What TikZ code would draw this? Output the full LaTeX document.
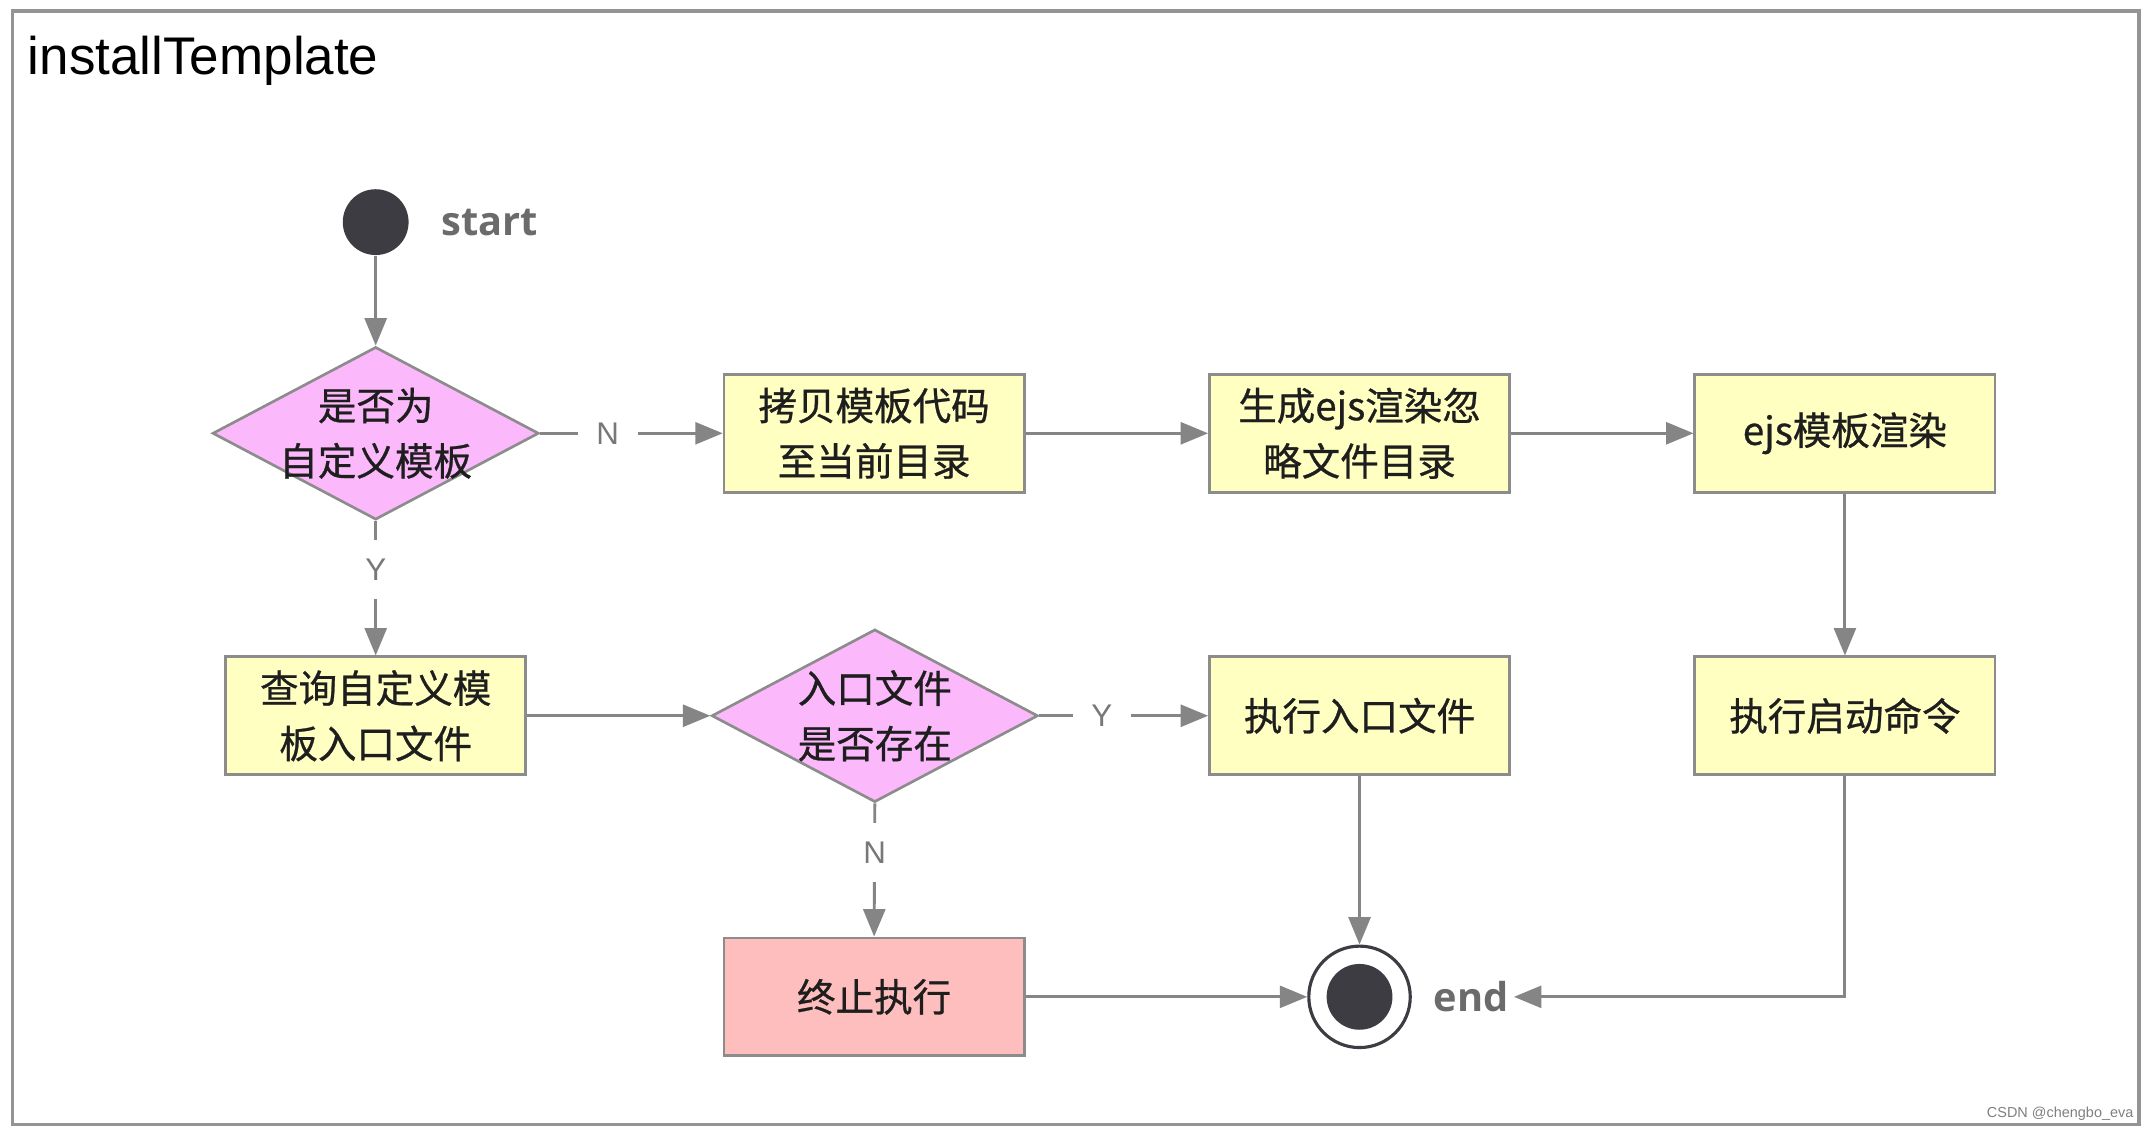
\documentclass[tikz,border=0pt]{standalone}
\usepackage{fontspec}
\setmainfont{Liberation Sans}
\newfontfamily\cjk[FakeBold=0.7]{Noto Sans CJK SC}
\newfontfamily\lblfont{Open Sans}
\usetikzlibrary{shapes.geometric,arrows.meta}
\definecolor{linegray}{HTML}{858585}
\definecolor{boxborder}{HTML}{8C8C8C}
\definecolor{boxfill}{HTML}{FFFFC2}
\definecolor{diafill}{HTML}{FBB9FB}
\definecolor{stopfill}{HTML}{FFBEBE}
\definecolor{dotfill}{HTML}{3C3C42}
\definecolor{txt}{HTML}{1E1E1E}
\tikzset{
  stepbox/.style={rectangle, draw=boxborder, line width=1.1pt, fill=boxfill,
    minimum width=4.38cm, minimum height=1.72cm, inner sep=0pt, align=center,
    font=\cjk\fontsize{16}{23}\selectfont, text=txt},
  stopbox/.style={stepbox, fill=stopfill},
  dia/.style={diamond, draw=boxborder, line width=1.1pt, fill=diafill,
    minimum width=4.76cm, minimum height=2.52cm, inner sep=0pt},
  diatext/.style={align=center, font=\cjk\fontsize{16}{23}\selectfont, text=txt, inner sep=0pt},
  arr/.style={draw=linegray, line width=1.2pt, -{Triangle[length=0.4cm,width=0.32cm]}},
  lbl/.style={fill=white, inner sep=0.27cm, font=\fontsize{13}{15}\selectfont, text=linegray!90!black},
  termlbl/.style={font=\lblfont\bfseries\fontsize{16.5}{20}\selectfont, text=black!58, inner sep=2pt},
}
\begin{document}
\begin{tikzpicture}[x=0.02cm,y=-0.02cm]
\useasboundingbox (0,0) rectangle (1568,827);
\fill[white] (0,0) rectangle (1568,827);
\node[draw=black!42, line width=1.4pt, minimum width=31.02cm, minimum height=16.24cm, inner sep=0pt] (frame) at (784.5,414) {};
\node[anchor=west, font=\fontsize{22}{24}\selectfont, text=black, inner sep=0pt] (title) at (20,44) {installTemplate};

\node[circle, fill=dotfill, minimum size=0.96cm, inner sep=0pt] (start) at (274,162) {};
\node[termlbl] (startlbl) at (357,162) {start};

\node[dia, label={[diatext]center:是否为\\自定义模板}] (d1) at (274,316) {};
\node[stepbox] (b1) at (637.5,316) {拷贝模板代码\\至当前目录};
\node[stepbox] (b2) at (991.5,316) {生成ejs渲染忽\\略文件目录};
\node[stepbox] (b3) at (1345.5,316) {ejs模板渲染};

\node[stepbox] (b4) at (274,522) {查询自定义模\\板入口文件};
\node[dia, label={[diatext]center:入口文件\\是否存在}] (d2) at (638,522) {};
\node[stepbox] (b5) at (991.5,522) {执行入口文件};
\node[stepbox] (b6) at (1345.5,522) {执行启动命令};

\node[stopbox] (b7) at (637.5,727) {终止执行};
\node[circle, draw=dotfill, line width=1.3pt, minimum size=1.48cm, inner sep=0pt,
  path picture={\fill[dotfill] (path picture bounding box.center) circle (0.48cm);}] (end) at (991.5,727) {};
\node[termlbl] (endlbl) at (1073,727) {end};

\draw[arr] (start) -- (d1.north);
\draw[arr] (d1.east) -- node[lbl, pos=0.37] {N} (b1.west);
\draw[arr] (b1) -- (b2);
\draw[arr] (b2) -- (b3);
\draw[arr] (d1.south) -- node[lbl, pos=0.36] {Y} (b4.north);
\draw[arr] (b4) -- (d2.west);
\draw[arr] (d2.east) -- node[lbl, pos=0.37] {Y} (b5.west);
\draw[arr] (d2.south) -- node[lbl, pos=0.37] {N} (b7.north);
\draw[arr] (b3) -- (b6);
\draw[arr] (b5) -- (end);
\draw[arr] (b7) -- (end);
\draw[arr] (b6.south) |- (endlbl.east);

\node[anchor=south east, font=\fontsize{6}{7}\selectfont, text=black!50, inner sep=1pt] (mark) at (1558,819) {CSDN @chengbo\_eva};
\end{tikzpicture}
\end{document}
